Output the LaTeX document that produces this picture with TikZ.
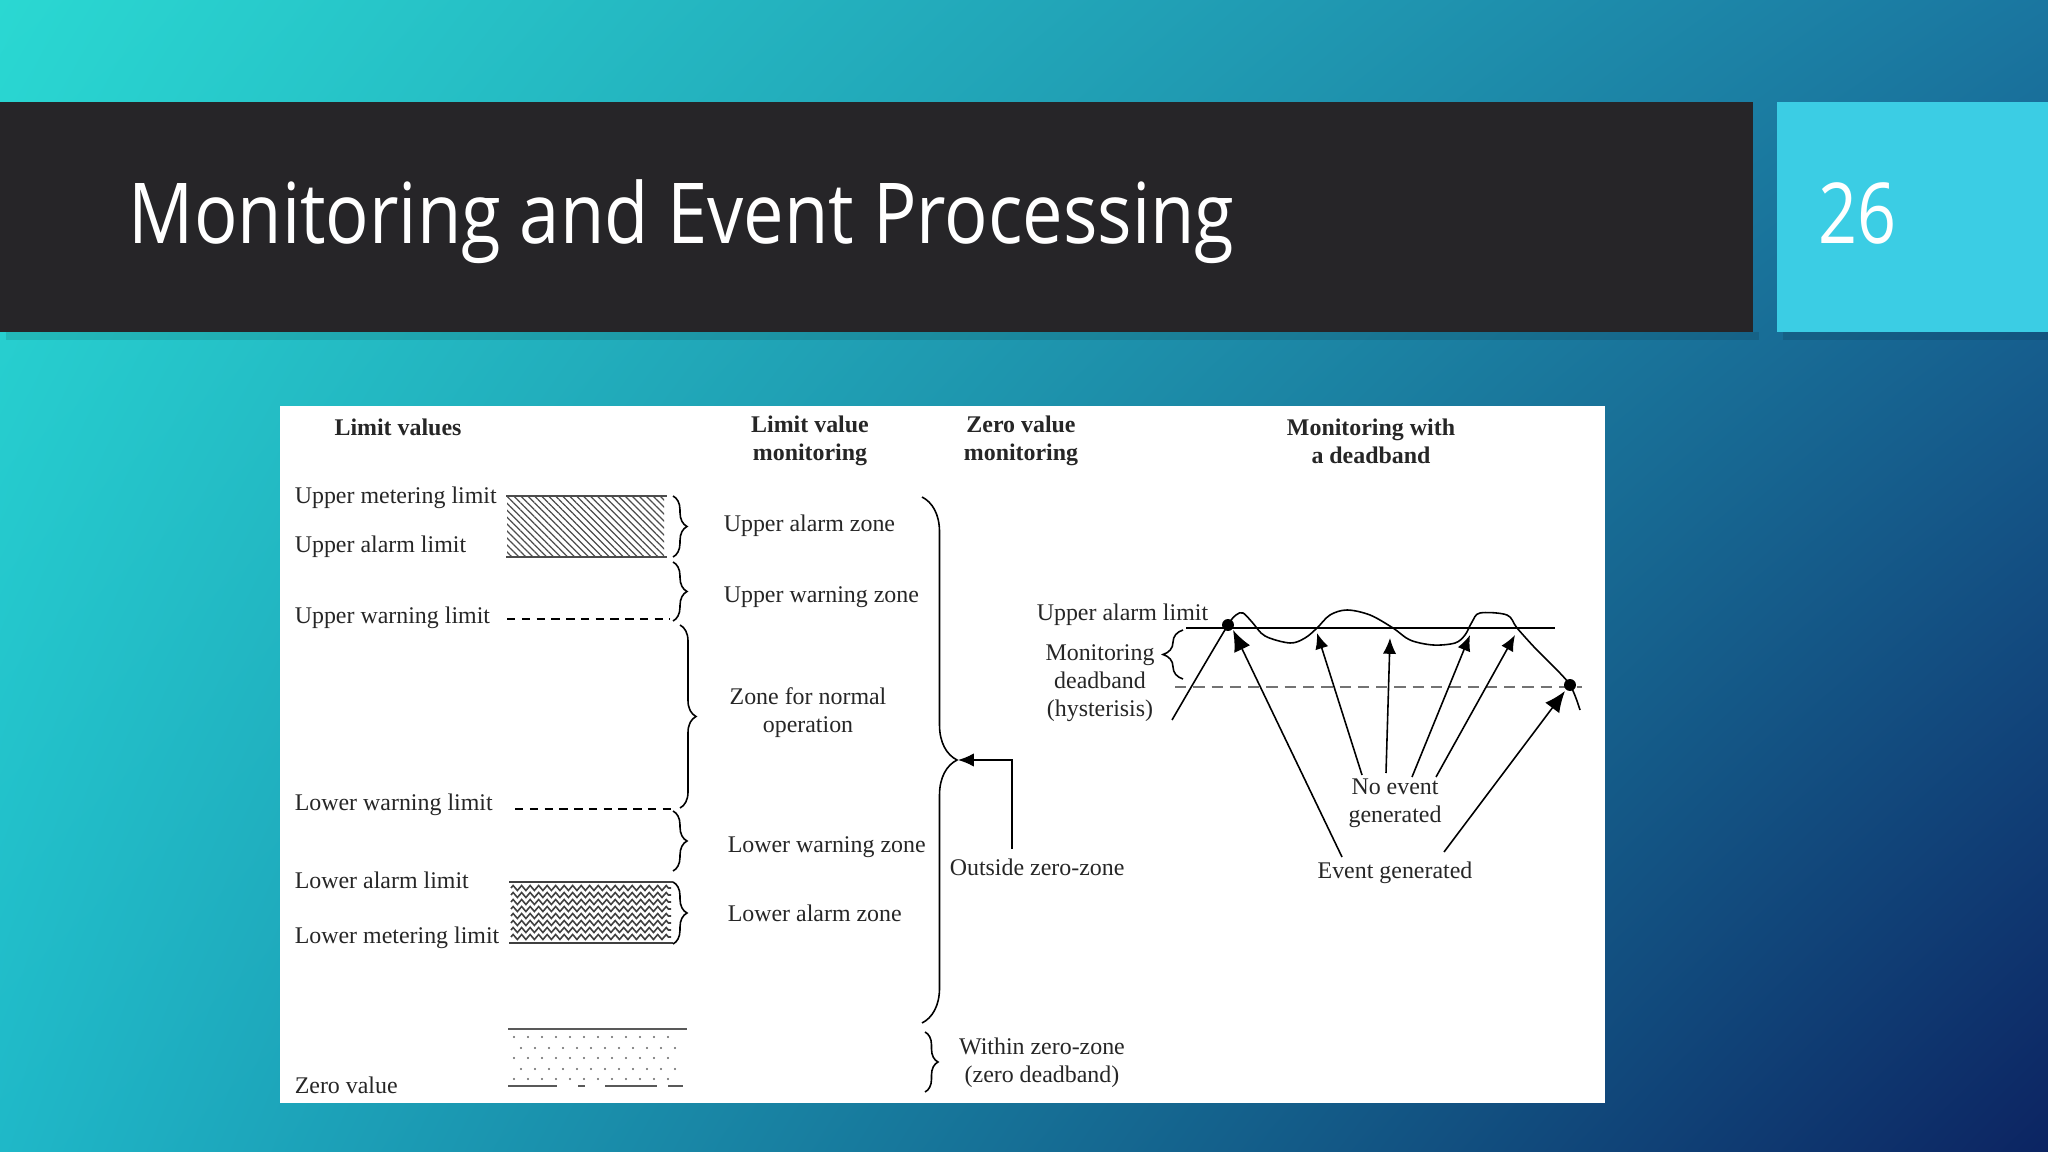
\documentclass[tikz,border=0pt]{standalone}
\usepackage{fontspec}
\setmainfont{Liberation Serif}
\newfontfamily\titlefont{Open Sans}
\usetikzlibrary{positioning,arrows.meta,shadings,decorations.pathreplacing,decorations.pathmorphing,patterns.meta}
\definecolor{bgtl}{HTML}{2AD8D2}
\definecolor{bgtr}{HTML}{1A76A0}
\definecolor{bgbl}{HTML}{1FB8C8}
\definecolor{bgbr}{HTML}{0C2462}
\definecolor{barblack}{HTML}{262528}
\definecolor{barcyan}{HTML}{3BCDE4}
\tikzset{
lbl/.style={anchor=west, inner sep=0pt, text=black!85, font=\fontsize{6.8}{7.9}\selectfont},
ctr/.style={lbl, anchor=center, align=center},
hdr/.style={ctr, font=\fontsize{6.8}{7.9}\selectfont\bfseries},
brc/.style={decorate, decoration={brace, amplitude=#1}},
brc/.default=0.14cm,
zig/.style={decorate, decoration={zigzag, segment length=0.085cm, amplitude=0.025cm}},
evt/.style={-{Latex[length=6pt,width=5pt]}}
}
\begin{document}
\begin{tikzpicture}[%
x=0.01cm, y=-0.01cm,
>={Latex[length=4.5pt,width=3.8pt]},
node distance=1cm,
on grid,
line width=0.45pt
]
\useasboundingbox (0,0) rectangle (2048,1152);
\shade[upper left=bgtl, upper right=bgtr, lower left=bgbl, lower right=bgbr] (0,0) rectangle (2048,1152);
\fill[black, opacity=0.1] (6,332) rectangle (1759,340);
\fill[black, opacity=0.1] (1783,332) rectangle (2048,340);
\fill[barblack] (0,102) rectangle (1753,332);
\fill[barcyan] (1777,102) rectangle (2048,332);
\node[anchor=base west, inner sep=0pt, text=white, font=\fontsize{23.9}{28}\titlefont] (0) at (128,244) {\resizebox{11.05cm}{\height}{Monitoring and Event Processing}};
\node[anchor=base west, inner sep=0pt, text=white, font=\fontsize{23.9}{28}\titlefont] (1) at (1818,244) {\resizebox{0.78cm}{\height}{26}};
\fill[white] (280,406) rectangle (1605,1103);
\node[hdr] (2) at (398,427) {Limit values};
\node[hdr] (3) at (810,441) {Limit value\\monitoring};
\node[hdr] (4) at (1021,441) {Zero value\\monitoring};
\node[hdr] (5) at (1371,441) {Monitoring with\\a deadband};
\node[lbl] (6) at (294,498) {Upper metering limit};
\node[lbl] (7) at (294,547) {Upper alarm limit};
\node[lbl] (8) at (294,618) {Upper warning limit};
\node[lbl] (9) at (294,805) {Lower warning limit};
\node[lbl] (10) at (294,880) {Lower alarm limit};
\node[lbl] (11) at (294,938) {Lower metering limit};
\node[lbl] (12) at (294,1085) {Zero value};
\fill[pattern={Lines[angle=-45,distance=1.4pt,line width=0.35pt]}, pattern color=black!70] (507,497) rectangle (664,556);
\draw[line width=0.8pt, black!70] (506,496) -- (667,496) (506,557) -- (667,557);
\draw[dash pattern=on 2.4pt off 1.8pt] (507,619) -- (670,619);
\draw[dash pattern=on 2.4pt off 1.8pt] (515,809) -- (672,809);
\draw[line width=0.8pt, black!75] (509,882) -- (673,882) (509,943) -- (673,943);
\foreach \y in {888,895,...,937}
\draw[zig, black!75] (511,\y) -- (671,\y);
\draw[line width=0.8pt, black!65] (508,1029) -- (687,1029);
\foreach \y/\o in {1037/0,1048/7,1058/0,1069/7,1079/0}
\foreach \x in {514,528,...,675}
\fill[black!60] (\x+\o,\y) circle (0.3pt);
\draw[line width=0.8pt, black!65] (508,1086) -- (557,1086) (578,1086) -- (585,1086) (605,1086) -- (657,1086) (668,1086) -- (683,1086);
\draw[brc] (673,496) -- (673,557);
\draw[brc] (673,562) -- (673,621);
\draw[brc=0.16cm] (680,625) -- (680,808);
\draw[brc] (673,811) -- (673,871);
\draw[brc] (673,882) -- (673,944);
\node[lbl] (13) at (723,526) {Upper alarm zone};
\node[lbl] (14) at (723,597) {Upper warning zone};
\node[ctr] (15) at (808,713) {Zone for normal\\operation};
\node[lbl] (16) at (727,847) {Lower warning zone};
\node[lbl] (17) at (727,913) {Lower alarm zone};
\draw[brc=0.35cm] (922,497) -- (922,1023);
\draw[brc=0.13cm] (925,1032) -- (925,1092);
\node[lbl] (18) at (949,867) {Outside zero-zone};
\node[ctr] (19) at (1042,1063) {Within zero-zone\\(zero deadband)};
\coordinate (a0) at (1012,849);
\coordinate (a1) at (958,760);
\draw[->] (a0) |- (a1);
\node[lbl] (20) at (1036,615) {Upper alarm limit};
\node[ctr] (21) at (1100,683) {Monitoring\\deadband\\(hysterisis)};
\draw[brc=0.2cm] (1183,679) -- (1183,630);
\draw (1186,628) -- (1555,628);
\draw[black!55, line width=0.8pt, dash pattern=on 3.2pt off 2pt] (1175,687) -- (1582,687);
\draw plot[smooth, tension=0.55] coordinates {(1172,720) (1200,672) (1228,625) (1236,615) (1243,613) (1252,622) (1265,636) (1290,643) (1305,638) (1317,628) (1330,615) (1347,610) (1370,615) (1393,628) (1410,640) (1433,645) (1455,643) (1465,635) (1472,622) (1480,613) (1507,615) (1517,628) (1535,648) (1550,663) (1570,685) (1580,710)};
\fill (1228,625) circle (1.7pt);
\fill (1570,685) circle (1.7pt);
\node[ctr] (22) at (1395,803) {No event\\generated};
\node[ctr] (23) [below=0.7cm of 22] {Event generated};
\coordinate (s1) at (1342,857);
\coordinate (e1) at (1233,630);
\coordinate (s2) at (1444,852);
\coordinate (e2) at (1565,691);
\coordinate (s3) at (1362,775);
\coordinate (e3) at (1317,633);
\coordinate (s4) at (1386,773);
\coordinate (e4) at (1390,638);
\coordinate (s5) at (1412,777);
\coordinate (e5) at (1470,635);
\coordinate (s6) at (1436,777);
\coordinate (e6) at (1515,635);
\path[evt] (s1) edge (e1);
\path[evt] (s2) edge (e2);
\path[->] (s3) edge (e3);
\path[->] (s4) edge (e4);
\path[->] (s5) edge (e5);
\path[->] (s6) edge (e6);
\end{tikzpicture}
\end{document}
